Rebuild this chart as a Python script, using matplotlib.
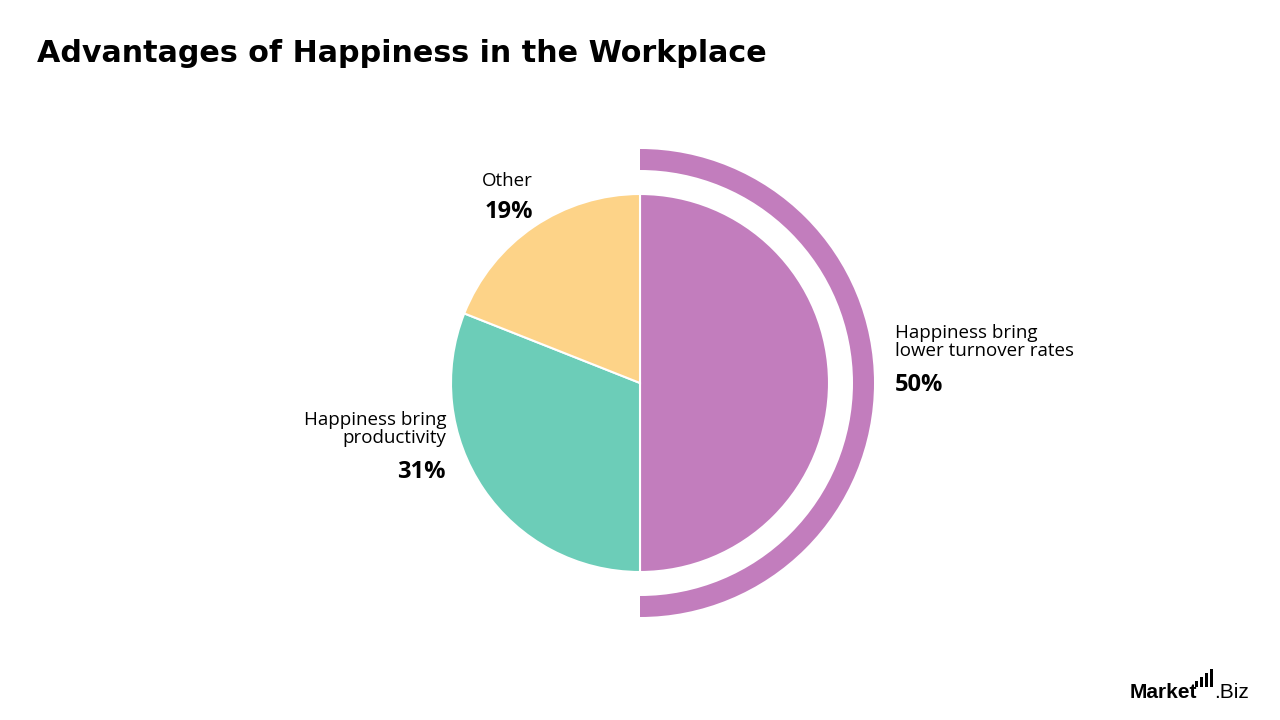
import matplotlib
matplotlib.use("Agg")
import matplotlib.pyplot as plt
from matplotlib.patches import Wedge, Rectangle

labels = ["Happiness bring\nlower turnover rates", "Happiness bring\nproductivity", "Other"]
values = [50, 31, 19]
colors = ["#C27DBD", "#6CCDB8", "#FDD388"]

fig = plt.figure(figsize=(12.8, 7.2), dpi=100)
ax = fig.add_axes([0, 0, 1, 1])

cx, cy, r = 640, 720 - 383, 189
ax.pie(values, colors=colors, startangle=90, counterclock=False, center=(cx, cy),
       radius=r, wedgeprops=dict(edgecolor="white", linewidth=1.5), frame=True)
ax.set_xlim(0, 1280); ax.set_ylim(0, 720); ax.axis("off")
ax.set_aspect("equal")

frac = values[0] / sum(values)
ax.add_patch(Wedge((cx, cy), 234, 90 - 360 * frac, 90, width=21, color=colors[0], lw=0))

fam = ["Open Sans", "DejaVu Sans"]
ax.text(37, 720 - 54, "Advantages of Happiness in the Workplace", fontsize=21.7, fontweight="bold",
        family=["DejaVu Sans"], va="center", ha="left")

ax.text(895, 720 - 342, labels[0], fontsize=13.5, family=fam, ha="left", va="center", linespacing=1.05)
ax.text(895, 720 - 385, f"{values[0]}%", fontsize=17, fontweight="bold", family=fam, ha="left", va="center")
ax.text(446, 720 - 429, labels[1], fontsize=13.5, family=fam, ha="right", va="center", linespacing=1.05)
ax.text(446, 720 - 472, f"{values[1]}%", fontsize=17, fontweight="bold", family=fam, ha="right", va="center")
ax.text(533, 720 - 181, labels[2], fontsize=13.5, family=fam, ha="right", va="center")
ax.text(533, 720 - 212, f"{values[2]}%", fontsize=17, fontweight="bold", family=fam, ha="right", va="center")

# logo
ax.text(1130, 720 - 692, "Market", fontsize=15, fontweight="bold", family=["Liberation Sans"], ha="left", va="center")
ax.text(1214, 720 - 692, ".Biz", fontsize=15, family=["Liberation Sans"], ha="left", va="center")
for i, h in enumerate([6, 10, 14, 18]):
    ax.add_patch(Rectangle((1195 + i * 5, 720 - 687), 3, h, color="black", lw=0))

fig.savefig("out.png", dpi=100)
